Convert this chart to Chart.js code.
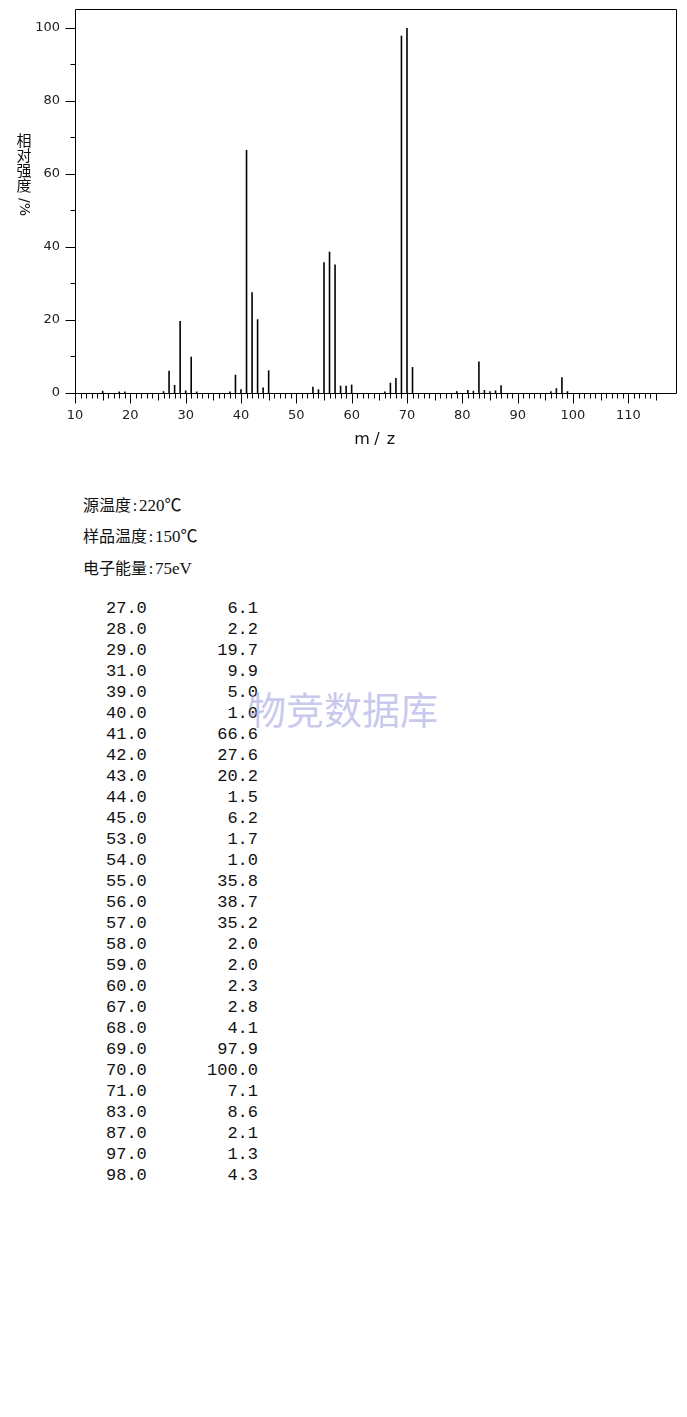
<!DOCTYPE html>
<html>
<head>
<meta charset="utf-8">
<script src="https://cdn.jsdelivr.net/npm/chart.js@4.4.1/dist/chart.umd.min.js"></script>
<style>
  html, body { margin: 0; padding: 0; background: #fff; }
  body { width: 687px; height: 1417px; position: relative; overflow: hidden; }
  #wrap { position: absolute; left: 0; top: 0; width: 687px; height: 450px; }
  .cond { position: absolute; left: 83px; font: 16px "Noto Sans CJK SC", sans-serif; color: #111; line-height: 20px; white-space: nowrap; }
  .cond .n { font-family: "Liberation Serif", serif; font-size: 17px; }
  .cond .c { display: inline-block; width: 8px; text-align: center; font-family: "Liberation Serif", serif; }
  .cond .deg { font-family: "Noto Sans CJK SC", sans-serif; font-size: 17px; }
  #table { position: absolute; left: 0; top: 597.5px; width: 687px; font: 17px "Liberation Mono", monospace; color: #111; }
  .row { position: relative; height: 21px; line-height: 21px; }
  .row .a { position: absolute; left: 106px; }
  .row .b { position: absolute; left: 158px; width: 100px; text-align: right; }
  #mark { position: absolute; left: 248px; top: 689px; font: 38px "Noto Sans CJK SC", sans-serif; line-height: 38px; color: rgba(165, 165, 225, 0.6); white-space: nowrap; }
</style>
</head>
<body>
<div id="wrap"><canvas id="ms" width="687" height="450"></canvas></div>
<div class="cond" style="top:494px">源温度<span class="c">:</span><span class="n">220</span><span class="deg">℃</span></div>
<div class="cond" style="top:525px">样品温度<span class="c">:</span><span class="n">150</span><span class="deg">℃</span></div>
<div class="cond" style="top:557px">电子能量<span class="c">:</span><span class="n">75eV</span></div>
<div id="table"></div>
<div id="mark">物竞数据库</div>
<script>
// peaks listed in the table (m/z, relative intensity %)
const mz = [27, 28, 29, 31, 39, 40, 41, 42, 43, 44, 45, 53, 54, 55, 56, 57, 58, 59, 60, 67, 68, 69, 70, 71, 83, 87, 97, 98];
const intensity = [6.1, 2.2, 19.7, 9.9, 5.0, 1.0, 66.6, 27.6, 20.2, 1.5, 6.2, 1.7, 1.0, 35.8, 38.7, 35.2, 2.0, 2.0, 2.3, 2.8, 4.1, 97.9, 100.0, 7.1, 8.6, 2.1, 1.3, 4.3];

// small peaks seen on the plot but below the table cut-off (estimated)
const minorMz = [15, 18, 19, 26, 30, 32, 38, 66, 79, 81, 82, 84, 85, 86, 96, 99];
const minorIntensity = [0.6, 0.4, 0.4, 0.5, 0.7, 0.4, 0.4, 0.4, 0.5, 0.8, 0.6, 0.8, 0.5, 0.7, 0.5, 0.5];

const xTicks = [10, 20, 30, 40, 50, 60, 70, 80, 90, 100, 110];
const yTicks = [0, 20, 40, 60, 80, 100];

// table under the chart
const table = document.getElementById('table');
mz.forEach((m, i) => {
  const row = document.createElement('div');
  row.className = 'row';
  row.innerHTML = '<span class="a">' + m.toFixed(1) + '</span><span class="b">' + intensity[i].toFixed(1) + '</span>';
  table.appendChild(row);
});

const points = mz.map((m, i) => ({ x: m, y: intensity[i] }))
  .concat(minorMz.map((m, i) => ({ x: m, y: minorIntensity[i] })));

const ink = '#000';

// frame, tick marks and axis titles drawn off the scales
const axesPlugin = {
  id: 'msAxes',
  afterDraw(chart) {
    const { ctx, chartArea: a, scales } = chart;
    const xs = scales.x, ys = scales.y;
    const left = Math.round(a.left) + 0.5;
    const right = Math.round(a.right) - 0.5;
    const top = Math.round(a.top) + 0.5;
    const base = Math.round(ys.getPixelForValue(0)) + 0.5;
    ctx.save();
    ctx.strokeStyle = ink;
    ctx.lineWidth = 1;
    ctx.beginPath();
    ctx.moveTo(left, base); ctx.lineTo(left, top); ctx.lineTo(right, top); ctx.lineTo(right, base);
    ctx.moveTo(left - 10, base); ctx.lineTo(right, base);
    for (let m = 10; m <= 115; m++) {
      const px = Math.round(xs.getPixelForValue(m)) + 0.5;
      const len = m % 10 === 0 ? 10 : (m % 5 === 0 ? 7 : 5);
      ctx.moveTo(px, base); ctx.lineTo(px, base + len);
    }
    for (let v = 10; v <= 100; v += 10) {
      const py = Math.round(ys.getPixelForValue(v)) + 0.5;
      const len = v % 20 === 0 ? 10 : 5;
      ctx.moveTo(left - len, py); ctx.lineTo(left, py);
    }
    ctx.stroke();

    // x title
    ctx.fillStyle = '#111';
    ctx.font = '16px "DejaVu Sans"';
    ctx.textAlign = 'center';
    ctx.textBaseline = 'middle';
    const cx = (a.left + a.right) / 2;
    ctx.fillText('m', cx - 14, 440);
    ctx.fillText('/', cx + 1, 440);
    ctx.fillText('z', cx + 15, 440);

    // y title, stacked characters
    ctx.font = '15px "Noto Sans CJK SC"';
    ['相', '对', '强', '度'].forEach((c, i) => ctx.fillText(c, 24, 140 + i * 15));
    ctx.save();
    ctx.translate(24, 207);
    ctx.rotate(Math.PI / 2);
    ctx.font = '14px "DejaVu Sans"';
    ctx.fillText('/%', 0, 0);
    ctx.restore();
    ctx.restore();
  }
};

new Chart(document.getElementById('ms'), {
  type: 'bar',
  data: {
    datasets: [{
      data: points,
      backgroundColor: ink,
      borderWidth: 0,
      barThickness: 1.6,
      inflateAmount: 0,
    }],
  },
  options: {
    responsive: false,
    animation: false,
    events: [],
    layout: { padding: { top: 9, right: 10, left: 0, bottom: 0 } },
    plugins: { legend: { display: false }, tooltip: { enabled: false } },
    scales: {
      x: {
        type: 'linear',
        min: 10,
        max: 118.8,
        offset: false,
        afterFit: (s) => { s.height = 57; s.paddingLeft = 0; s.paddingRight = 0; },
        afterBuildTicks: (s) => { s.ticks = xTicks.map((v) => ({ value: v })); },
        grid: { display: false, drawTicks: false },
        border: { display: false },
        ticks: {
          autoSkip: false,
          maxRotation: 0,
          padding: 15,
          color: '#222',
          font: { family: 'DejaVu Sans', size: 13 },
        },
      },
      y: {
        min: 0,
        max: 105.2,
        afterFit: (s) => { s.width = 75; s.paddingTop = 0; s.paddingBottom = 0; },
        afterBuildTicks: (s) => { s.ticks = yTicks.map((v) => ({ value: v })); },
        grid: { display: false, drawTicks: false },
        border: { display: false },
        ticks: {
          padding: 15,
          color: '#222',
          font: { family: 'DejaVu Sans', size: 13 },
        },
      },
    },
  },
  plugins: [axesPlugin],
});
</script>
</body>
</html>
